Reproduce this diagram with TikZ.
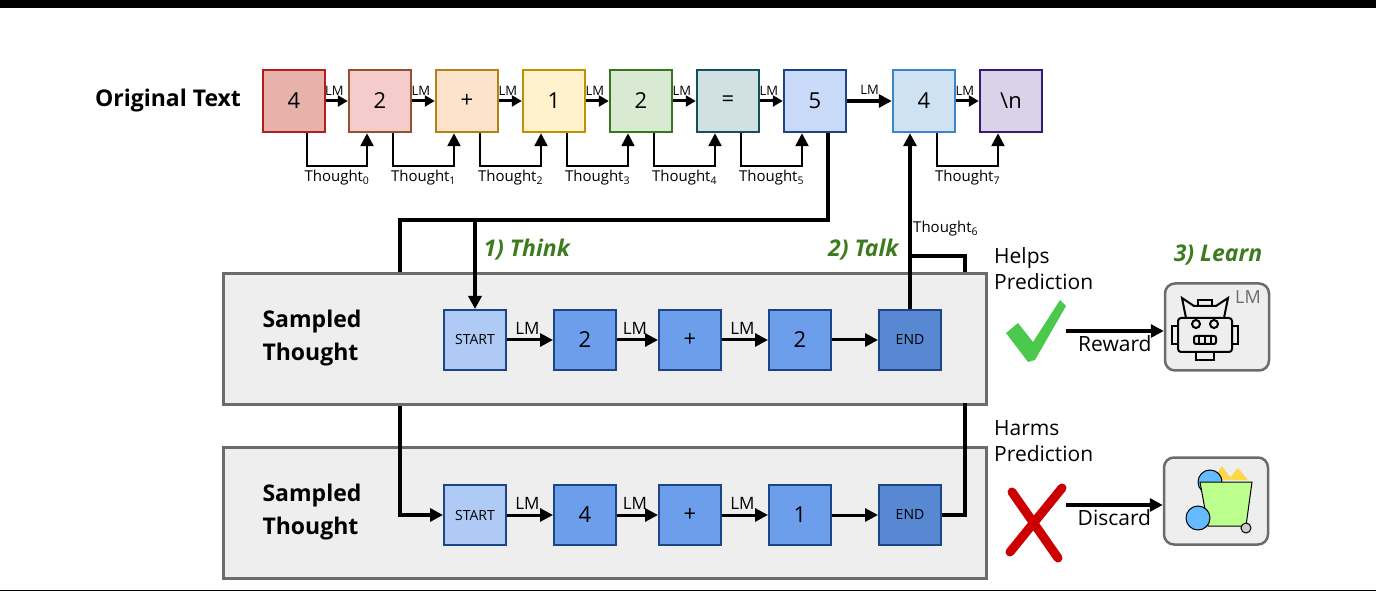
\documentclass[tikz,border=0pt]{standalone}
\usepackage{fontspec}
\setmainfont{Open Sans}
\usetikzlibrary{arrows.meta,positioning}
\definecolor{thinkgreen}{HTML}{3E7A1E}
\definecolor{panelgray}{HTML}{EEEEEE}
\definecolor{edgegray}{HTML}{6B6B6B}
\definecolor{tokblue}{HTML}{6D9EEB}
\definecolor{tokedge}{HTML}{1C4587}
\tikzset{
  tok/.style={draw, line width=2.5pt, minimum width=62pt, minimum height=62pt, inner sep=0pt, font=\fontsize{22}{24}\selectfont},
  thk/.style={draw=tokedge, line width=2pt, fill=tokblue, minimum width=62pt, minimum height=60pt, inner sep=0pt, font=\fontsize{22}{24}\selectfont},
  panel/.style={draw=edgegray, line width=3pt, fill=panelgray},
  arr/.style={line width=3.5pt, -{Triangle[length=13pt,width=13pt]}},
  ln/.style={line width=3.5pt},
  lm/.style={font=\fontsize{13}{13}\selectfont, inner sep=1pt},
  thl/.style={font=\fontsize{15}{15}\selectfont, inner sep=1pt},
  phase/.style={text=thinkgreen, font=\fontsize{23}{24}\selectfont\bfseries\itshape},
  side/.style={font=\fontsize{21}{26}\selectfont, align=left, anchor=north west, inner sep=0pt},
  iconbox/.style={draw=edgegray, line width=2.5pt, fill=panelgray, rounded corners=10pt, minimum width=104pt, minimum height=87pt}
}
\begin{document}
\begin{tikzpicture}[x=1pt, y=-1pt]
\useasboundingbox (0,0) rectangle (1376,593);
\fill (0,0) rectangle (1376,8);
\draw[line width=1pt] (0,590) -- (1376,590);

% Original text row
\node[font=\fontsize{23}{24}\selectfont\bfseries] (orig) at (168,101) {Original Text};
\node[tok, draw={rgb,255:red,178;green,30;blue,30}, fill={rgb,255:red,230;green,178;blue,170}] (t1) at (294,101) {4};
\node[tok, draw={rgb,255:red,150;green,80;blue,50}, fill={rgb,255:red,244;green,204;blue,204}] (t2) at (380,101) {2};
\node[tok, draw={rgb,255:red,180;green,130;blue,20}, fill={rgb,255:red,252;green,228;blue,204}] (t3) at (467,101) {+};
\node[tok, draw={rgb,255:red,191;green,144;blue,0}, fill={rgb,255:red,255;green,242;blue,204}] (t4) at (554,101) {1};
\node[tok, draw={rgb,255:red,56;green,118;blue,29}, fill={rgb,255:red,217;green,234;blue,211}] (t5) at (641,101) {2};
\node[tok, draw={rgb,255:red,19;green,79;blue,92}, fill={rgb,255:red,208;green,224;blue,227}] (t6) at (728,101) {=};
\node[tok, draw={rgb,255:red,28;green,69;blue,135}, fill={rgb,255:red,201;green,218;blue,248}] (t7) at (815,101) {5};
\node[tok, draw={rgb,255:red,61;green,133;blue,198}, fill={rgb,255:red,207;green,226;blue,243}] (t8) at (924,101) {4};
\node[tok, draw={rgb,255:red,53;green,28;blue,117}, fill={rgb,255:red,217;green,210;blue,233}] (t9) at (1011,101) {\textbackslash n};

% LM arrows
\foreach \a/\b in {t1/t2,t2/t3,t3/t4,t4/t5,t5/t6,t6/t7,t8/t9}
  \draw[arr, line width=3pt, -{Triangle[length=10pt,width=11pt]}] (\a) -- node[lm, above left=3pt and -9pt] {LM} (\b);
\draw[arr] (t7) -- node[lm, above=4pt] {LM} (t8);

% Thought loops
\foreach \a/\b/\i in {t1/t2/0,t2/t3/1,t3/t4/2,t4/t5/3,t5/t6/4,t6/t7/5,t8/t9/7}
  \draw[arr, line width=2.5pt] ([xshift=13pt]\a.south) -- ++(0,33) -| node[thl, pos=0.25, below=2pt] {Thought\textsubscript{\i}} ([xshift=-13pt]\b.south);

% Panels
\node[panel, minimum width=763pt, minimum height=131pt, anchor=north west] (p1) at (222,272) {};
\node[panel, minimum width=763pt, minimum height=131pt, anchor=north west] (p2) at (222,446) {};
\node[font=\fontsize{23}{33}\selectfont\bfseries, align=left] (lab1) at (312,338) {Sampled\\Thought};
\node[font=\fontsize{23}{33}\selectfont\bfseries, align=left] (lab2) at (312,512) {Sampled\\Thought};

% Thought rows
\node[thk, fill=tokblue!55, font=\fontsize{14}{14}\selectfont] (a1) at (475,340) {START};
\node[thk] (a2) at (585,340) {2};
\node[thk] (a3) at (690,340) {+};
\node[thk] (a4) at (800,340) {2};
\node[thk, fill=tokblue!75!tokedge, font=\fontsize{14}{14}\selectfont] (a5) at (910,340) {END};
\node[thk, fill=tokblue!55, font=\fontsize{14}{14}\selectfont] (b1) at (475,515) {START};
\node[thk] (b2) at (585,515) {4};
\node[thk] (b3) at (690,515) {+};
\node[thk] (b4) at (800,515) {1};
\node[thk, fill=tokblue!75!tokedge, font=\fontsize{14}{14}\selectfont] (b5) at (910,515) {END};
\foreach \r in {a,b} {
  \foreach \x/\y in {1/2,2/3,3/4}
    \draw[arr, line width=3pt] (\r\x) -- node[lm, font=\fontsize{17}{17}\selectfont, above left=3pt and -12pt] {LM} (\r\y);
  \draw[arr, line width=3pt] (\r4) -- (\r5);
}

% Think
\coordinate (k1) at (828,220);
\coordinate (k2) at (400,220);
\draw[ln] ([xshift=13pt]t7.south) |- (k2) -- (k2 |- p1.north);
\draw[arr] (k1 -| a1) -- (a1);
\draw[arr] (k2 |- p1.south) |- (b1);
\node[phase, anchor=west] (think) at (480,250) {1) Think};

% Talk
\draw[arr] (a5.north) -- (a5.north |- t8.south);
\node[thl, anchor=west] (th6) at (912,229) {Thought\textsubscript{6}};
\draw[ln] (910,256) -| (965,272);
\draw[ln] (965,403) |- (b5);
\node[phase, anchor=east] (talk) at (902,250) {2) Talk};

% Learn side
\node[side] (helps) at (994,247) {Helps\\Prediction};
\node[side] (harms) at (994,420) {Harms\\Prediction};
\node[phase] (learn) at (1218,255) {3) Learn};
\fill[green!70!black!70!white] (1006,333) -- (1018,323) -- (1033,342) -- (1060,300) -- (1066,306) -- (1035,360) -- (1028,362) -- cycle;
\draw[red!80!black, line width=9pt, line cap=round] (1012,492) -- (1058,558) (1062,488) -- (1010,552);
\node[iconbox] (robot) at (1217,327) {};
\node[iconbox] (bin) at (1216,501) {};
\coordinate (rw) at (1066,331);
\coordinate (dc) at (1066,505);
\draw[arr] (rw) -- node[below=3pt, side, anchor=north] {Reward} (rw -| robot.west);
\draw[arr] (dc) -- node[below=3pt, side, anchor=north] {Discard} (dc -| bin.west);

% robot icon
\begin{scope}[line width=2pt]
\draw[rounded corners=3pt] (1178,318) rectangle (1232,352);
\draw (1186,318) -- (1182,298) -- (1194,306) -- (1216,306) -- (1228,298) -- (1224,318);
\draw (1178,326) -- (1172,326) -- (1172,344) -- (1178,344) (1232,326) -- (1238,326) -- (1238,344) -- (1232,344);
\draw (1196,324) circle (4pt) (1214,324) circle (4pt);
\draw[rounded corners=2pt] (1194,336) rectangle (1216,344);
\draw (1199,336) -- (1199,344) (1205,336) -- (1205,344) (1211,336) -- (1211,344);
\draw (1196,352) rectangle (1214,360);
\draw (1198,300) rectangle (1212,306);
\end{scope}
\node[font=\fontsize{18}{18}\selectfont, text=edgegray, inner sep=0pt] (lmtag) at (1248,297) {LM};

% bin icon
\fill[yellow!60!orange!70] (1212,480) -- (1222,466) -- (1232,480) -- cycle (1228,480) -- (1238,468) -- (1248,480) -- cycle;
\filldraw[fill=blue!45!cyan!60, draw=black, line width=1pt] (1210,482) circle (12pt);
\filldraw[fill=green!45!lime!45, draw=black, line width=1pt] (1200,482) -- (1252,482) -- (1246,526) -- (1208,526) -- cycle;
\filldraw[fill=blue!45!cyan!60, draw=black, line width=1pt] (1198,518) circle (12pt);
\draw[line width=1pt, fill=gray!40] (1246,528) circle (5pt);
\end{tikzpicture}
\end{document}
